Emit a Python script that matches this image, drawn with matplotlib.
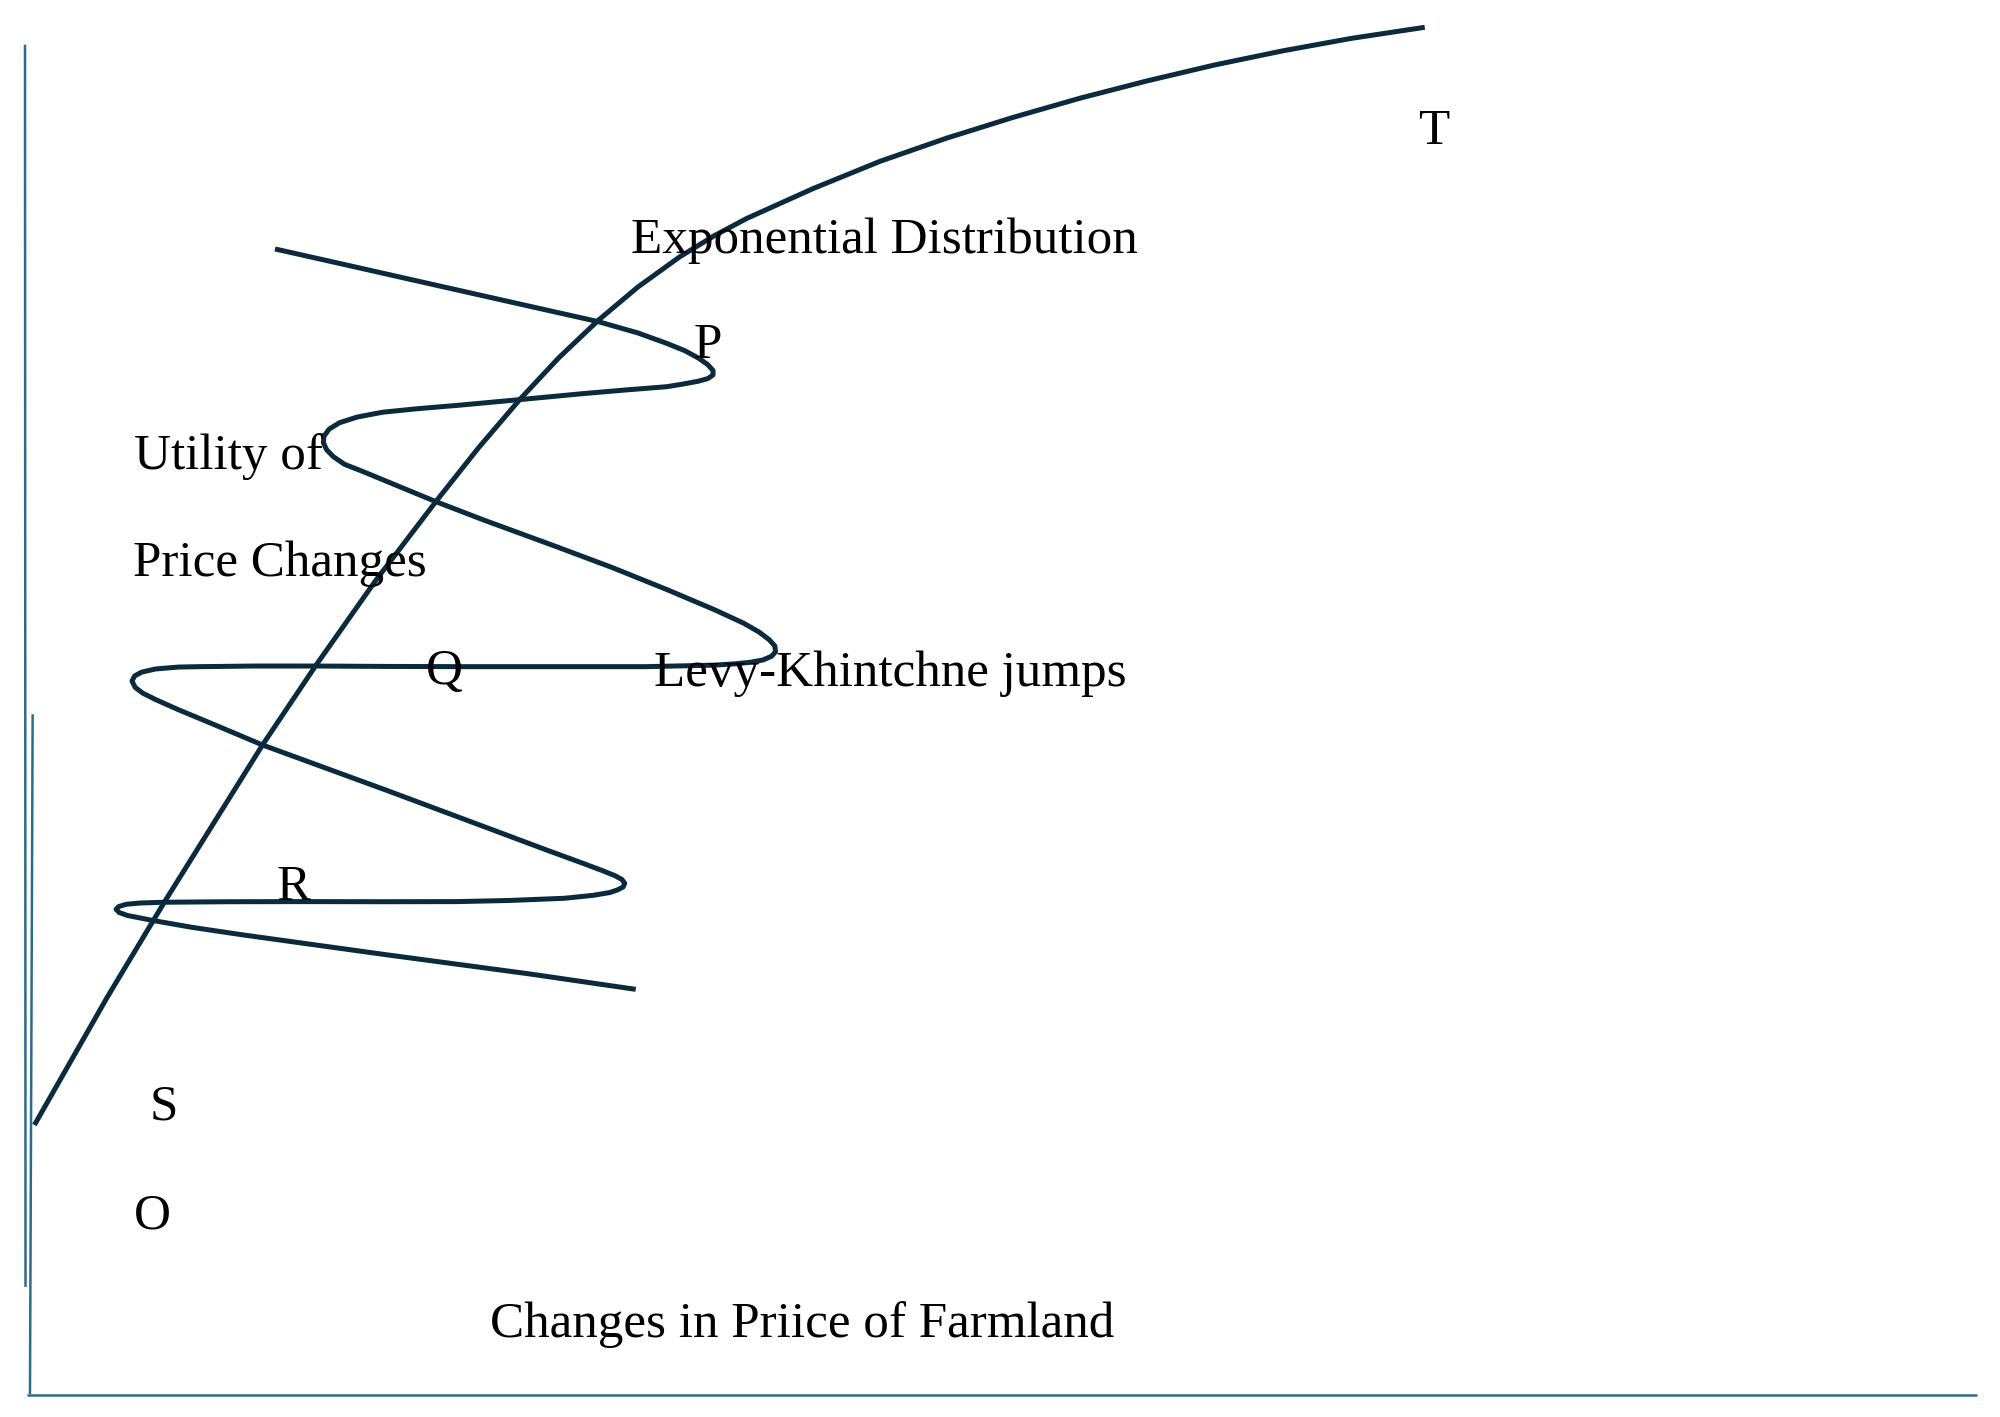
import matplotlib
matplotlib.use("Agg")
import matplotlib.pyplot as plt

# canvas units: 1568 x 1111, y grows downward (as in the source sketch)
W, H = 1568, 1111

# exponential distribution curve (S -> T)
exp_x = [27, 84, 128.8, 205.8, 247.3, 295, 341.7, 375, 407.7, 438,
         469.1, 500, 533, 560, 585.4, 637.6, 689.9, 742.2, 794.4, 846.7,
         899, 952, 1006, 1060, 1117]
exp_y = [882, 782, 707.4, 584.1, 522.2, 454.5, 393.3, 351.3, 313, 280.6,
         251.1, 225.1, 201.3, 184.8, 171.3, 147.8, 126.5, 108.3, 92, 77,
         63.5, 51, 39.8, 30, 21.4]

# Levy-Khintchne jump curve (zig-zag through P, Q, R)
jump_x = [215.6, 270, 326.7, 400, 469.1, 500, 522.7, 537, 548, 555,
          559, 559, 555, 547, 535, 522.7, 490, 457.3, 407.7, 360,
          326.7, 300, 280, 266, 258, 254, 253.5, 256, 261.3, 270,
          284, 300.5, 341.7, 380, 436.2, 480, 523.7, 560, 583.2, 595,
          603, 607.5, 608, 605, 598, 588, 576, 560, 506.2, 440,
          366.2, 300, 247.3, 200, 156.3, 140, 122, 111, 105.5, 103.5,
          106, 112, 122, 140, 170, 205.8, 302.4, 386.4, 430, 456,
          472, 482, 487.5, 489.8, 488.5, 484, 478, 465, 442.4, 400,
          358.4, 300, 238, 180, 128.8, 110, 99, 93, 91, 93.5,
          100, 120.4, 150, 190.4, 302.4, 414.4, 498.4]
jump_y = [195.2, 207.4, 220.2, 236.7, 252.2, 261, 269.2, 275, 281, 286,
          290.5, 294, 296.8, 299, 301.2, 303.2, 305.8, 308.6, 313.3, 317.7,
          320.5, 323.2, 327, 331.5, 336.5, 342, 347, 352.5, 358, 364,
          369.5, 376.3, 393.3, 408, 428.6, 445, 462.6, 478, 488.7, 495.5,
          501.5, 506.5, 511, 514.5, 517.5, 519.3, 520.5, 521.5, 522.7, 522.7,
          522.7, 522.5, 522.2, 522.2, 522.7, 523, 524.5, 527, 530, 534,
          539, 543.5, 548.5, 556.5, 569, 584.1, 619.4, 650.7, 667, 676.5,
          682.5, 686.5, 689.5, 692.5, 695.5, 697.8, 699.8, 702, 704.3, 706,
          706.9, 707, 706.9, 707, 707.4, 708, 709, 710.8, 713, 715.5,
          717.8, 721.8, 727, 733, 748.5, 763.5, 775.7]

# hand-drawn axes
axis_lines = [
    ([19.6, 20], [35, 1009]),
    ([25.6, 23.5], [560, 1093]),
    ([21, 1550], [1093.5, 1093.5]),
]

# labels: (text, left x, baseline y)
labels = [
    ("T", 1112, 113),
    ("Exponential Distribution", 495, 198),
    ("P", 544, 281),
    ("Utility of", 105, 368),
    ("Price Changes", 104, 452),
    ("Q", 334, 536),
    ("Levy-Khintchne jumps", 513, 538),
    ("R", 217, 706),
    ("S", 117, 878),
    ("O", 105, 963),
    ("Changes in Priice of Farmland", 384, 1048),
]

curve_color = "#0b2a3c"
axis_color = "#2e6b88"

fig = plt.figure(figsize=(10, 7.085), dpi=200)
ax = fig.add_axes([0, 0, 1, 1])
ax.set_xlim(0, W)
ax.set_ylim(H, 0)
ax.axis("off")

for xs, ys in axis_lines:
    ax.plot(xs, ys, color=axis_color, lw=0.9, solid_capstyle="butt")

ax.plot(exp_x, exp_y, color=curve_color, lw=1.8,
        solid_joinstyle="round", solid_capstyle="butt")
ax.plot(jump_x, jump_y, color=curve_color, lw=1.8,
        solid_joinstyle="round", solid_capstyle="butt")

for txt, x, y in labels:
    ax.text(x, y, txt, fontsize=18.4, family=["Liberation Serif", "DejaVu Serif"],
            color="black", ha="left", va="baseline")

fig.savefig("out.png", dpi=200, facecolor="white")
